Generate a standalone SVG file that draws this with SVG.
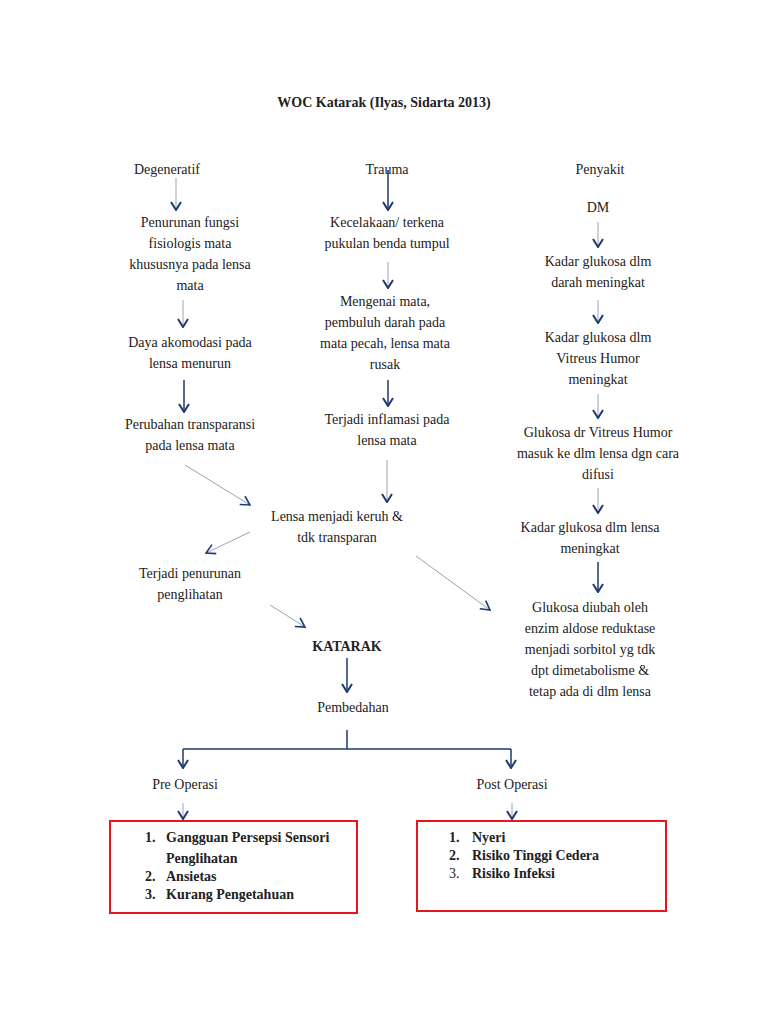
<svg xmlns="http://www.w3.org/2000/svg" width="768" height="1024" viewBox="0 0 768 1024">
<style>
text{font-family:"Liberation Serif",serif;font-size:14px;fill:#222;text-anchor:middle}
.b{font-weight:bold}
.l{text-anchor:start}
.s{stroke:#9aa3b5;stroke-width:1;fill:none}
.d{stroke:#1f3a6e;stroke-width:1.5;fill:none}
.box{fill:none;stroke:#e8161c;stroke-width:2}
</style>
<defs>
<marker id="v" viewBox="0 0 10 12" refX="9" refY="6" markerWidth="10" markerHeight="12" markerUnits="userSpaceOnUse" orient="auto">
<polyline points="1,1 9,6 1,11" fill="none" stroke="#1f3a6e" stroke-width="2"/>
</marker>
<marker id="va" viewBox="0 0 12 12" refX="11" refY="6" markerWidth="12" markerHeight="12" markerUnits="userSpaceOnUse" orient="auto">
<polyline points="2,1 11,6 2,11" fill="none" stroke="#1f3a6e" stroke-width="1.6"/>
</marker>
</defs>
<rect width="768" height="1024" fill="#fff"/>
<text class="b" x="384" y="107">WOC Katarak (Ilyas, Sidarta 2013)</text>
<g id="c1">
<text x="167" y="174">Degeneratif</text>
<text x="190" y="227">Penurunan fungsi</text><text x="190" y="248">fisiologis mata</text><text x="190" y="269">khususnya pada lensa</text><text x="190" y="290">mata</text>
<text x="190" y="347">Daya akomodasi pada</text><text x="190" y="368">lensa menurun</text>
<text x="190" y="429">Perubahan transparansi</text><text x="190" y="450">pada lensa mata</text>
<text x="190" y="578">Terjadi penurunan</text><text x="190" y="599">penglihatan</text>
</g>
<g id="c2">
<text x="387" y="174">Trauma</text>
<text x="387" y="227">Kecelakaan/ terkena</text><text x="387" y="248">pukulan benda tumpul</text>
<text x="385" y="306">Mengenai mata,</text><text x="385" y="327">pembuluh darah pada</text><text x="385" y="348">mata pecah, lensa mata</text><text x="385" y="369">rusak</text>
<text x="387" y="424">Terjadi inflamasi pada</text><text x="387" y="445">lensa mata</text>
<text x="337" y="521">Lensa menjadi keruh &amp;</text><text x="337" y="542">tdk transparan</text>
<text class="b" x="347" y="651">KATARAK</text>
<text x="353" y="712">Pembedahan</text>
</g>
<g id="c3">
<text x="600" y="174">Penyakit</text>
<text x="598" y="212">DM</text>
<text x="598" y="266">Kadar glukosa dlm</text><text x="598" y="287">darah meningkat</text>
<text x="598" y="342">Kadar glukosa dlm</text><text x="598" y="363">Vitreus Humor</text><text x="598" y="384">meningkat</text>
<text x="598" y="437">Glukosa dr Vitreus Humor</text><text x="598" y="458">masuk ke dlm lensa dgn cara</text><text x="598" y="479">difusi</text>
<text x="590" y="532">Kadar glukosa dlm lensa</text><text x="590" y="553">meningkat</text>
<text x="590" y="612">Glukosa diubah oleh</text><text x="590" y="633">enzim aldose reduktase</text><text x="590" y="654">menjadi sorbitol yg tdk</text><text x="590" y="675">dpt dimetabolisme &amp;</text><text x="590" y="696">tetap ada di dlm lensa</text>
</g>
<g id="pre">
<text x="185" y="789">Pre Operasi</text>
<rect class="box" x="110" y="821" width="247" height="92"/>
<text class="l b" x="145" y="842">1.</text><text class="l b" x="166" y="842">Gangguan Persepsi Sensori</text>
<text class="l b" x="166" y="863">Penglihatan</text>
<text class="l b" x="145" y="881">2.</text><text class="l b" x="166" y="881">Ansietas</text>
<text class="l b" x="145" y="899">3.</text><text class="l b" x="166" y="899">Kurang Pengetahuan</text>
</g>
<g id="post">
<text x="512" y="789">Post Operasi</text>
<rect class="box" x="417" y="821" width="249" height="90"/>
<text class="l b" x="449" y="842">1.</text><text class="l b" x="472" y="842">Nyeri</text>
<text class="l b" x="449" y="860">2.</text><text class="l b" x="472" y="860">Risiko Tinggi Cedera</text>
<text class="l" x="449" y="878">3.</text><text class="l b" x="472" y="878">Risiko Infeksi</text>
</g>
<g id="connectors">
<path class="s" d="M176 178V210" marker-end="url(#v)"/>
<path class="s" d="M183 300V327" marker-end="url(#v)"/>
<path class="d" d="M184 380V412" marker-end="url(#v)"/>
<path class="d" d="M388 170V210" marker-end="url(#v)"/>
<path class="s" d="M388 262V288" marker-end="url(#v)"/>
<path class="d" d="M388 380V406" marker-end="url(#v)"/>
<path class="s" d="M387 460V502" marker-end="url(#v)"/>
<path class="s" d="M598 222V247" marker-end="url(#v)"/>
<path class="s" d="M598 300V323" marker-end="url(#v)"/>
<path class="s" d="M598 394V418" marker-end="url(#v)"/>
<path class="s" d="M598 488V513" marker-end="url(#v)"/>
<path class="d" d="M598 562V592" marker-end="url(#v)"/>
<path class="s" d="M185 465L250 505" marker-end="url(#va)"/>
<path class="s" d="M250 532L206 553" marker-end="url(#va)"/>
<path class="s" d="M270 605L305 627" marker-end="url(#va)"/>
<path class="s" d="M416 556L490 610" marker-end="url(#va)"/>
<path class="d" d="M347 658V692" marker-end="url(#v)"/>
<path class="d" d="M347 730V749M183 749H511"/>
<path class="d" d="M183 749V768" marker-end="url(#v)"/>
<path class="d" d="M511 749V768" marker-end="url(#v)"/>
<path class="s" d="M183 803V819" marker-end="url(#v)"/>
<path class="s" d="M512 803V819" marker-end="url(#v)"/>
</g>
</svg>
